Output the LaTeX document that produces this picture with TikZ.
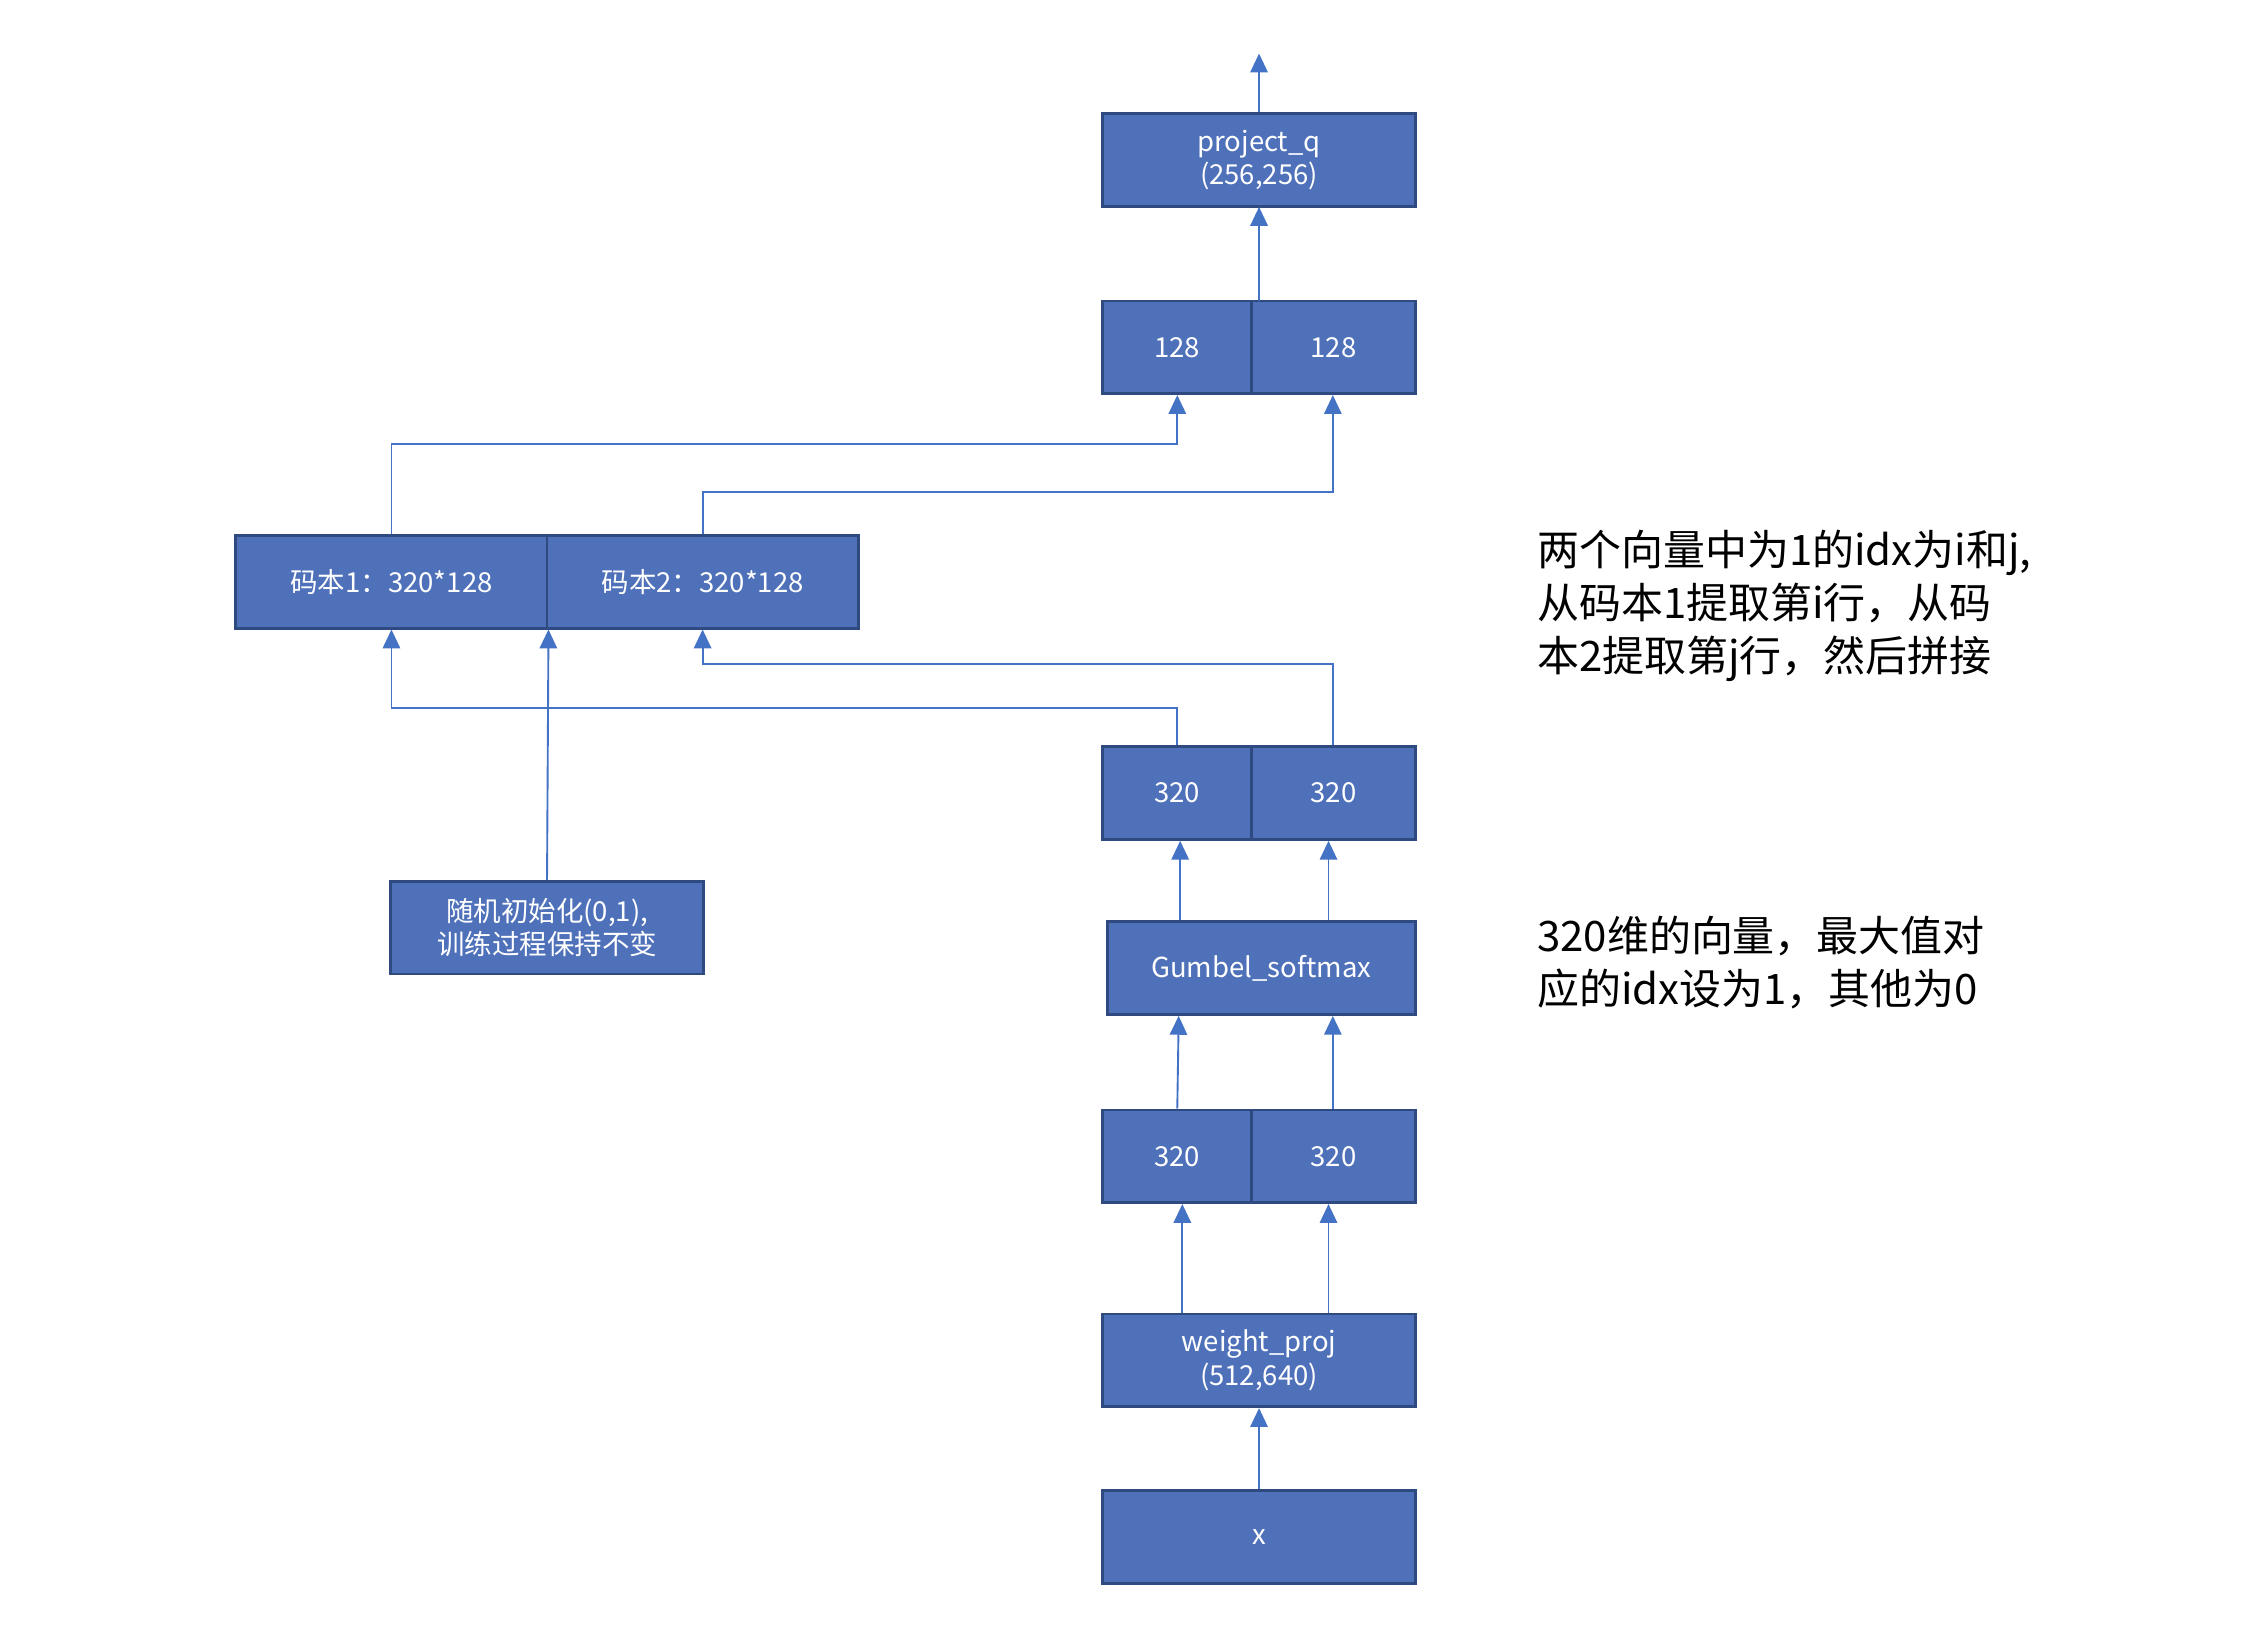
\documentclass[tikz,border=0pt]{standalone}
\usepackage{fontspec}
\setmainfont{Noto Sans CJK SC}
\usetikzlibrary{arrows.meta}
\definecolor{bfill}{HTML}{4F71BA}
\definecolor{bdraw}{HTML}{2F4A80}
\definecolor{lcol}{HTML}{4472C4}
\begin{document}
\begin{tikzpicture}[x=1pt,y=-1pt,
  box/.style={draw=bdraw,fill=bfill,line width=2pt,text=white,font=\fontsize{19}{23}\selectfont,align=center,inner sep=0pt,minimum height=64pt},
  arr/.style={draw=lcol,line width=1.3pt,-{Triangle[width=12pt,length=13pt]}},
  note/.style={font=\fontsize{29}{36.5}\selectfont,align=left,anchor=north west,inner sep=0pt}]
\useasboundingbox (0,0) rectangle (1552,1126);
\node[box,minimum width=216pt] (pq) at (870,110.5) {project\_q\\(256,256)};
\node[box,minimum width=103pt] (ha) at (813.5,240) {128};
\node[box,minimum width=113pt] (hb) at (921.5,240) {128};
\node[box,minimum width=215pt] (cb1) at (270.5,402) {码本1：320*128};
\node[box,minimum width=215pt] (cb2) at (485.5,402) {码本2：320*128};
\node[box,minimum width=103pt] (ta) at (813.5,548) {320};
\node[box,minimum width=113pt] (tb) at (921.5,548) {320};
\node[box,minimum width=213pt] (gum) at (871.5,669) {Gumbel\_softmax};
\node[box,minimum width=103pt] (ba) at (813.5,799) {320};
\node[box,minimum width=113pt] (bb) at (921.5,799) {320};
\node[box,minimum width=216pt] (wp) at (870,940) {weight\_proj\\(512,640)};
\node[box,minimum width=216pt] (x) at (870,1062) {x};
\node[box,minimum width=216pt] (ri) at (378,641) {随机初始化(0,1),\\训练过程保持不变};
\coordinate (top) at (870,37);
\draw[arr] (pq.north) -- (top);
\draw[arr] (870,208) -- (870,143);
\draw[arr] (cb1.north) -- ++(0,-62) -| (ha.south);
\draw[arr] (cb2.north) -- ++(0,-29) -| ([xshift=-0.5pt]hb.south);
\draw[arr] (ta.north) -- ++(0,-26) -| (cb1.south);
\draw[arr] ([xshift=-0.5pt]tb.north) -- ++(0,-56) -| (cb2.south);
\draw[arr] (ri.north) -- (cb1.south east);
\draw[arr] ([xshift=2pt]gum.north -| ta.south) -- ([xshift=2pt]ta.south);
\draw[arr] ([xshift=-3.5pt]gum.north -| tb.south) -- ([xshift=-3.5pt]tb.south);
\draw[arr] (ba.north) -- ([xshift=1pt]gum.south -| ba.north);
\draw[arr] ([xshift=-0.5pt]bb.north) -- ([xshift=-0.5pt]gum.south -| bb.north);
\draw[arr] ([xshift=3.5pt]wp.north -| ba.south) -- ([xshift=3.5pt]ba.south);
\draw[arr] ([xshift=-3.5pt]wp.north -| bb.south) -- ([xshift=-3.5pt]bb.south);
\draw[arr] (x.north) -- (wp.south);
\node[note] (n1) at (1062,366) {两个向量中为1的idx为i和j,\\从码本1提取第i行，从码\\本2提取第j行，然后拼接};
\node[note] (n2) at (1062,633) {320维的向量，最大值对\\应的idx设为1，其他为0};
\end{tikzpicture}
\end{document}
